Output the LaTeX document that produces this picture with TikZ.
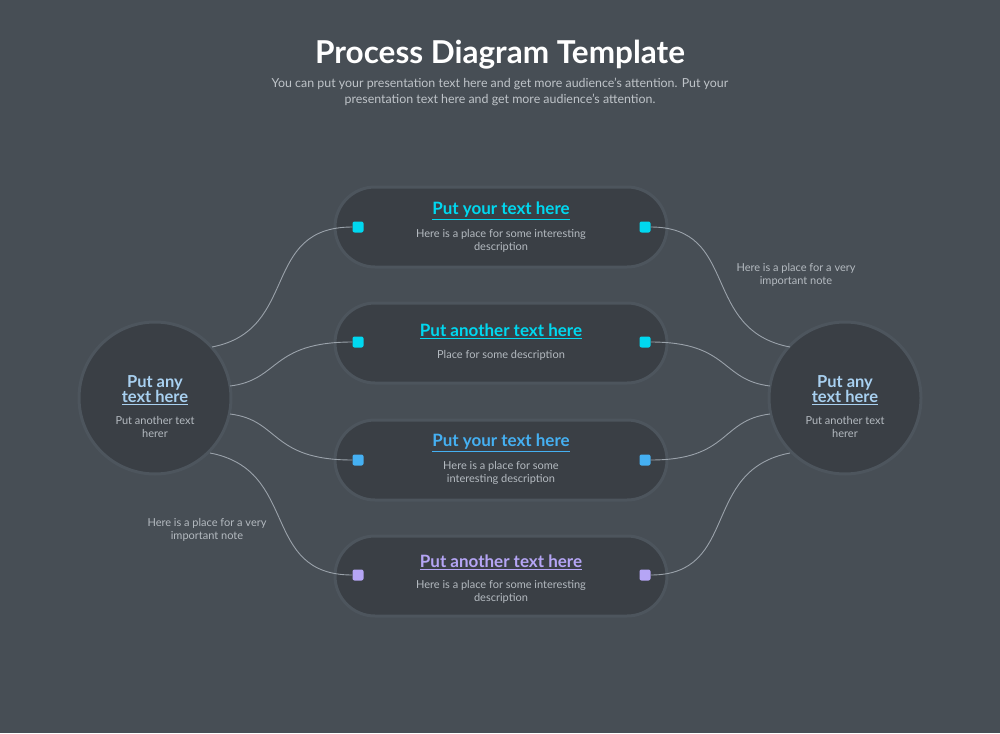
\documentclass[tikz,border=0pt]{standalone}
\usepackage{fontspec}
\setmainfont{Lato}
\definecolor{bg}{HTML}{474E55}
\definecolor{pill}{HTML}{3A3F45}
\definecolor{glow}{HTML}{4D555D}
\definecolor{cyanc}{HTML}{00D8F0}
\definecolor{bluec}{HTML}{45B0F2}
\definecolor{lavc}{HTML}{B5A5F5}
\definecolor{circt}{HTML}{A8D0F0}
\definecolor{greyt}{HTML}{B4BAC0}
\definecolor{linec}{HTML}{9AA2AA}
\tikzset{x=1pt,y=-1pt,
 pillbox/.style={fill=pill,rounded corners=40pt,minimum width=332pt,minimum height=80pt,draw=glow,line width=3pt},
 circbox/.style={circle,fill=pill,minimum size=152pt,draw=glow,line width=3pt},
 sq/.style={rounded corners=2pt,minimum size=11pt,inner sep=0pt},
 ttl/.style={font=\bfseries\fontsize{17}{20}\selectfont},
 desc/.style={text=greyt,font=\fontsize{11}{13}\selectfont,align=center},
 conn/.style={draw=linec,line width=0.9pt}}
\newcommand{\ul}[1]{\underline{#1}}
\begin{document}
\begin{tikzpicture}
\fill[bg] (0,0) rectangle (1000,733);
\useasboundingbox (0,0) rectangle (1000,733);
\node[text=white,font=\bfseries\fontsize{31.5}{36}\selectfont] (title) at (500,55) {Process Diagram Template};
\node[desc,text=greyt!85,font=\fontsize{12.4}{15.5}\selectfont] (sub) at (500,92) {You can put your presentation text here and get more audience's attention. Put your\\presentation text here and get more audience's attention.};
\foreach \n/\y in {1/227,2/343,3/460,4/576}{\node[pillbox] (p\n) at (501,\y) {};}
\node[circbox] (L) at (155,398) {};
\node[circbox] (R) at (845,398) {};
\node[sq,fill=cyanc] (l1) at (358,227) {}; \node[sq,fill=cyanc] (r1) at (645,227) {};
\node[sq,fill=cyanc] (l2) at (358,342) {}; \node[sq,fill=cyanc] (r2) at (645,342) {};
\node[sq,fill=bluec] (l3) at (358,460) {}; \node[sq,fill=bluec] (r3) at (645,460) {};
\node[sq,fill=lavc] (l4) at (358,575) {}; \node[sq,fill=lavc] (r4) at (645,575) {};
\node[ttl,text=cyanc] (t1) at (501,211) {\ul{Put your text here}};
\node[desc] (d1) at (501,241) {Here is a place for some interesting\\description};
\node[ttl,text=cyanc] (t2) at (501,331) {\ul{Put another text here}};
\node[desc] (d2) at (501,355) {Place for some description};
\node[ttl,text=bluec] (t3) at (501,443) {\ul{Put your text here}};
\node[desc] (d3) at (501,473) {Here is a place for some\\interesting description};
\node[ttl,text=lavc] (t4) at (501,562) {\ul{Put another text here}};
\node[desc] (d4) at (501,592) {Here is a place for some interesting\\description};
\node[ttl,text=circt,align=center,font=\bfseries\fontsize{16.5}{15.5}\selectfont] (Lt) at (155,390) {Put any\\\ul{text here}};
\node[desc] (Ld) at (155,427) {Put another text\\herer};
\node[ttl,text=circt,align=center,font=\bfseries\fontsize{16.5}{15.5}\selectfont] (Rt) at (845,390) {Put any\\\ul{text here}};
\node[desc] (Rd) at (845,427) {Put another text\\herer};
\node[desc] (n1) at (796,275) {Here is a place for a very\\important note};
\node[desc] (n2) at (207,530) {Here is a place for a very\\important note};
\coordinate (a1) at (212,347); \coordinate (a2) at (230,386);
\coordinate (a3) at (230,414); \coordinate (a4) at (210,453);
\coordinate (b1) at (790,347); \coordinate (b2) at (770,386);
\coordinate (b3) at (770,414); \coordinate (b4) at (790,453);
\draw[conn] (a1) .. controls (300,330) and (260,227) .. (l1.west);
\draw[conn] (a2) .. controls (280,380) and (270,342) .. (l2.west);
\draw[conn] (a3) .. controls (280,420) and (270,460) .. (l3.west);
\draw[conn] (a4) .. controls (300,470) and (260,575) .. (l4.west);
\draw[conn] (r1.east) .. controls (740,227) and (700,330) .. (b1);
\draw[conn] (r2.east) .. controls (730,342) and (720,380) .. (b2);
\draw[conn] (r3.east) .. controls (730,460) and (720,420) .. (b3);
\draw[conn] (r4.east) .. controls (740,575) and (700,470) .. (b4);
\end{tikzpicture}
\end{document}
